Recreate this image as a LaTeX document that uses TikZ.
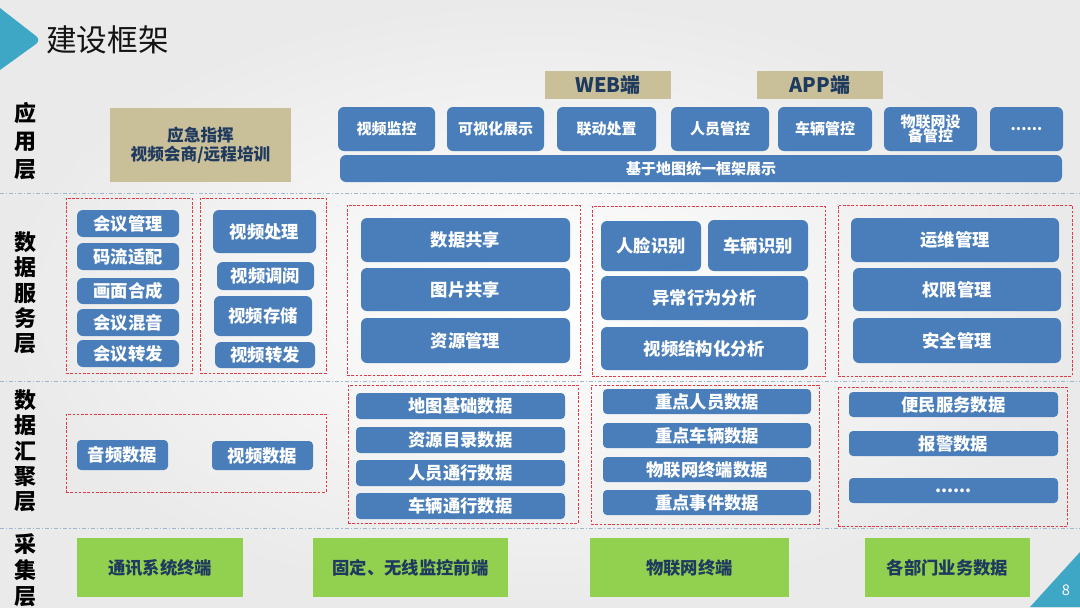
\documentclass[tikz,border=0pt]{standalone}
\usepackage{fontspec}
\setmainfont{Noto Sans CJK SC}
\definecolor{bluebox}{HTML}{4A7EBB}
\definecolor{khakic}{HTML}{C9BF99}
\definecolor{navyc}{HTML}{1F3A5F}
\definecolor{lgreen}{HTML}{92D050}
\definecolor{tealc}{HTML}{3FA7C6}
\definecolor{dashred}{HTML}{E23A46}
\definecolor{sepc}{HTML}{9FB6CF}
\newcommand\bx[7]{\node[#7, minimum width={(#4-#2)*0.75pt}, minimum height={(#5-#3)*0.75pt}] (#1) at ({(#2+#4)/2},{(#3+#5)/2}) {#6};}
\newcommand\rb[5]{\node[rd, minimum width={(#4-#2)*0.75pt}, minimum height={(#5-#3)*0.75pt}] (#1) at ({(#2+#4)/2},{(#3+#5)/2}) {};}
\tikzset{
  base/.style={inner sep=0pt, outer sep=0pt, align=center},
  bb/.style={base, fill=bluebox, rounded corners=4.5pt, text=white, font=\bfseries\fontsize{13}{15}\selectfont},
  bs/.style={bb, rounded corners=3pt},
  app/.style={bb, font=\bfseries\fontsize{11.25}{12.5}\selectfont},
  kh/.style={base, fill=khakic, text=navyc, font=\bfseries\fontsize{12.5}{15}\selectfont},
  kt/.style={base, fill=khakic, text=navyc, font=\bfseries\fontsize{15}{17}\selectfont},
  gr/.style={base, fill=lgreen, text=navyc, font=\bfseries\fontsize{13}{15}\selectfont},
  rd/.style={base, draw=dashred, dash pattern=on 2pt off 1.2pt, line width=0.75pt},
  sepline/.style={draw=sepc, dash pattern=on 3pt off 1.5pt on 0.8pt off 1.5pt, line width=0.7pt},
  layer/.style={base, font=\bfseries\fontsize{16.5}{19}\selectfont, text=black},
}
\begin{document}
\begin{tikzpicture}[x=0.75pt, y=-0.75pt]
% background
\shade[inner color=white, outer color={rgb,255:red,234;green,234;blue,234}] (0,0) rectangle (1080,607);
\useasboundingbox (0,0) rectangle (1080,607);
% decorations
\fill[tealc] (0,8) -- (36,36) .. controls (39,38.5) and (39,41.5) .. (36,44) -- (0,70) -- cycle;
\fill[tealc] (1030,607) -- (1080,552) -- (1080,607) -- cycle;
\node[base, text=white, font=\fontsize{11}{12}\selectfont] (pg) at (1066,590) {8};
\node[base, anchor=west, font=\fontsize{23}{26}\selectfont, text={rgb,255:red,20;green,20;blue,20}] (title) at (46,40) {建设框架};
% separators
\coordinate (s1a) at (0,193); \coordinate (s1b) at (1080,193);
\coordinate (s2a) at (0,381); \coordinate (s2b) at (1080,381);
\coordinate (s3a) at (0,528); \coordinate (s3b) at (1080,528);
\draw[sepline] (s1a) -- (s1b);
\draw[sepline] (s2a) -- (s2b);
\draw[sepline] (s3a) -- (s3b);
% layer labels
\node[layer, font=\bfseries\fontsize{16.5}{21}\selectfont] (L1) at (25,141) {应\\用\\层};
\node[layer] (L2) at (25,293) {数\\据\\服\\务\\层};
\node[layer] (L3) at (25,451) {数\\据\\汇\\聚\\层};
\node[layer, font=\bfseries\fontsize{16.5}{19.5}\selectfont] (L4) at (25,570) {采\\集\\层};
% application layer
\bx{emg}{110}{108}{291}{182}{应急指挥\\[-1pt]视频会商/远程培训}{kh}
\bx{web}{545}{71}{671}{99}{WEB端}{kt}
\bx{appc}{757}{71}{883}{99}{APP端}{kt}
\bx{a1}{338}{107}{435}{151}{视频监控}{app}
\bx{a2}{447}{107}{544}{151}{可视化展示}{app}
\bx{a3}{557}{107}{656}{151}{联动处置}{app}
\bx{a4}{671}{107}{769}{151}{人员管控}{app}
\bx{a5}{778}{107}{872}{151}{车辆管控}{app}
\bx{a6}{884}{107}{977}{151}{物联网设\\[-2pt]备管控}{app}
\bx{a7}{990}{107}{1063}{151}{......}{app}
\bx{map}{340}{155}{1062}{182}{基于地图统一框架展示}{app}
% data service layer
\rb{r1}{66}{198}{192}{373}
\bx{m1}{77}{210}{179}{237}{会议管理}{bb}
\bx{m2}{77}{243}{179}{270}{码流适配}{bb}
\bx{m3}{77}{278}{179}{304}{画面合成}{bb}
\bx{m4}{77}{309}{179}{336}{会议混音}{bb}
\bx{m5}{77}{340}{179}{367}{会议转发}{bb}
\rb{r2}{200}{198}{326}{373}
\bx{v1}{213}{210}{316}{253}{视频处理}{bb}
\bx{v2}{217}{262}{314}{290}{视频调阅}{bb}
\bx{v3}{214}{296}{312}{336}{视频存储}{bb}
\bx{v4}{215}{342}{315}{368}{视频转发}{bb}
\rb{r3}{347}{205}{580}{375}
\bx{d1}{361}{218}{570}{262}{数据共享}{bb}
\bx{d2}{361}{268}{570}{311}{图片共享}{bb}
\bx{d3}{361}{318}{570}{363}{资源管理}{bb}
\rb{r4}{592}{206}{825}{376}
\bx{i1}{601}{221}{701}{271}{人脸识别}{bb}
\bx{i2}{708}{220}{808}{271}{车辆识别}{bb}
\bx{i3}{601}{276}{808}{320}{异常行为分析}{bb}
\bx{i4}{601}{327}{808}{370}{视频结构化分析}{bb}
\rb{r5}{838}{205}{1072}{376}
\bx{o1}{851}{218}{1059}{262}{运维管理}{bb}
\bx{o2}{853}{268}{1061}{311}{权限管理}{bb}
\bx{o3}{853}{318}{1061}{363}{安全管理}{bb}
% data aggregation layer
\rb{r6}{66}{414}{326}{492}
\bx{g1}{77}{440}{168}{470}{音频数据}{bs}
\bx{g2}{212}{441}{313}{470}{视频数据}{bs}
\rb{r7}{348}{385}{578}{523}
\bx{h1}{356}{393}{565}{419}{地图基础数据}{bs}
\bx{h2}{356}{427}{565}{453}{资源目录数据}{bs}
\bx{h3}{356}{460}{565}{486}{人员通行数据}{bs}
\bx{h4}{356}{493}{565}{519}{车辆通行数据}{bs}
\rb{r8}{591}{385}{819}{524}
\bx{k1}{603}{389}{811}{414}{重点人员数据}{bs}
\bx{k2}{603}{423}{811}{448}{重点车辆数据}{bs}
\bx{k3}{603}{457}{811}{482}{物联网终端数据}{bs}
\bx{k4}{603}{490}{811}{515}{重点事件数据}{bs}
\rb{r9}{838}{387}{1067}{526}
\bx{p1}{849}{392}{1058}{417}{便民服务数据}{bs}
\bx{p2}{849}{431}{1058}{456}{报警数据}{bs}
\bx{p3}{849}{478}{1058}{503}{......}{bs}
% collection layer
\bx{c1}{77}{538}{243}{597}{通讯系统终端}{gr}
\bx{c2}{313}{538}{508}{597}{固定、无线监控前端}{gr}
\bx{c3}{590}{538}{789}{597}{物联网终端}{gr}
\bx{c4}{865}{538}{1030}{597}{各部门业务数据}{gr}
\end{tikzpicture}
\end{document}
